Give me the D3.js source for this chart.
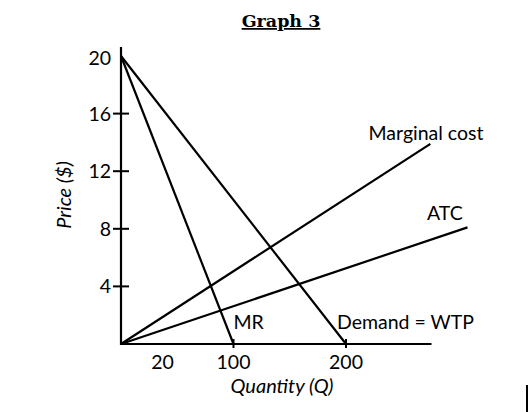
<!DOCTYPE html>
<html>
<head>
<meta charset="utf-8">
<script src="https://cdn.jsdelivr.net/npm/d3@7"></script>
<style>
  body { margin: 0; background: #fff; }
  text { font-family: Lato, "Open Sans", sans-serif; fill: #000; }
</style>
</head>
<body>
<div id="chart"></div>
<script>
// curves, each a straight segment between two (Q, P) points
const curveNames = ["MR", "Demand = WTP", "Marginal cost", "ATC"];
const curveQ = [[0, 100], [0, 200], [0, 275], [0, 308]];
const curveP = [[20, 0], [20, 0], [0, 13.9], [0, 8.1]];

// y axis ticks and labels
const yTicks = [4, 8, 12, 16];
const yLabelValues = [4, 8, 12, 16, 20];
const yTickLabels = ["4", "8", "12", "16", "20"];

// x axis ticks and labels
const xTicks = [100, 200];
const xLabelValues = [37, 100, 200];
const xLabelText = ["20", "100", "200"];

// where the curve names sit (data coords)
const nameQ = [100, 192, 220, 272];
const nameP = [1.05, 1.05, 14.15, 8.6];

const W = 530, H = 412;
const fs = "19.5px";
const svg = d3.select("#chart").append("svg")
    .attr("width", W).attr("height", H);

const x = d3.scaleLinear().domain([0, 100]).range([121, 233.5]);
const y = d3.scaleLinear().domain([0, 20]).range([344, 56]);

// title
svg.append("text")
    .attr("x", 281).attr("y", 27)
    .attr("text-anchor", "middle")
    .style("font-family", "'DejaVu Serif', serif")
    .style("font-weight", "bold")
    .style("font-size", "17.5px")
    .style("text-decoration", "underline")
    .text("Graph 3");

// axes as plain lines
svg.append("line")
    .attr("x1", x(0)).attr("x2", x(0))
    .attr("y1", 47).attr("y2", y(0) + 1)
    .attr("stroke", "#000").attr("stroke-width", 2.2);
svg.append("line")
    .attr("x1", x(0) - 1).attr("x2", x(276))
    .attr("y1", y(0)).attr("y2", y(0))
    .attr("stroke", "#000").attr("stroke-width", 2.2);

// y ticks
svg.selectAll(".ytick")
    .data(yTicks)
    .join("line")
    .attr("class", "ytick")
    .attr("x1", x(0) - 8).attr("x2", x(0) + 8)
    .attr("y1", d => y(d)).attr("y2", d => y(d))
    .attr("stroke", "#000").attr("stroke-width", 2);

svg.selectAll(".ylab")
    .data(yLabelValues)
    .join("text")
    .attr("class", "ylab")
    .attr("x", 111)
    .attr("y", d => y(d) + (d === 20 ? 9 : 7))
    .attr("text-anchor", "end")
    .style("font-size", fs)
    .text((d, i) => yTickLabels[i]);

// x ticks
svg.selectAll(".xtick")
    .data(xTicks)
    .join("line")
    .attr("class", "xtick")
    .attr("x1", d => x(d)).attr("x2", d => x(d))
    .attr("y1", y(0) - 5).attr("y2", y(0) + 4)
    .attr("stroke", "#000").attr("stroke-width", 2);

svg.selectAll(".xlab")
    .data(xLabelValues)
    .join("text")
    .attr("class", "xlab")
    .attr("x", d => x(d))
    .attr("y", 369)
    .attr("text-anchor", "middle")
    .style("font-size", fs)
    .text((d, i) => xLabelText[i]);

// axis titles
svg.append("text")
    .attr("x", 282).attr("y", 393)
    .attr("text-anchor", "middle")
    .style("font-size", "20px")
    .style("font-style", "italic")
    .text("Quantity (Q)");

svg.append("text")
    .attr("transform", "translate(71,195) rotate(-90)")
    .attr("text-anchor", "middle")
    .style("font-size", "20px")
    .style("font-style", "italic")
    .text("Price ($)");

// curves
const segs = curveNames.map((n, i) => ({
    name: n,
    pts: curveQ[i].map((q, j) => [q, curveP[i][j]])
}));

const line = d3.line().x(d => x(d[0])).y(d => y(d[1]));

svg.selectAll(".curve")
    .data(segs)
    .join("path")
    .attr("class", "curve")
    .attr("fill", "none")
    .attr("stroke", "#000")
    .attr("stroke-width", 2.2)
    .attr("d", d => line(d.pts));

svg.selectAll(".cname")
    .data(curveNames)
    .join("text")
    .attr("class", "cname")
    .attr("x", (d, i) => x(nameQ[i]))
    .attr("y", (d, i) => y(nameP[i]))
    .style("font-size", fs)
    .text(d => d);

// stray bar at the lower right edge of the original
svg.append("line")
    .attr("x1", 527).attr("x2", 527)
    .attr("y1", 385).attr("y2", 412)
    .attr("stroke", "#000").attr("stroke-width", 2);
</script>
</body>
</html>
